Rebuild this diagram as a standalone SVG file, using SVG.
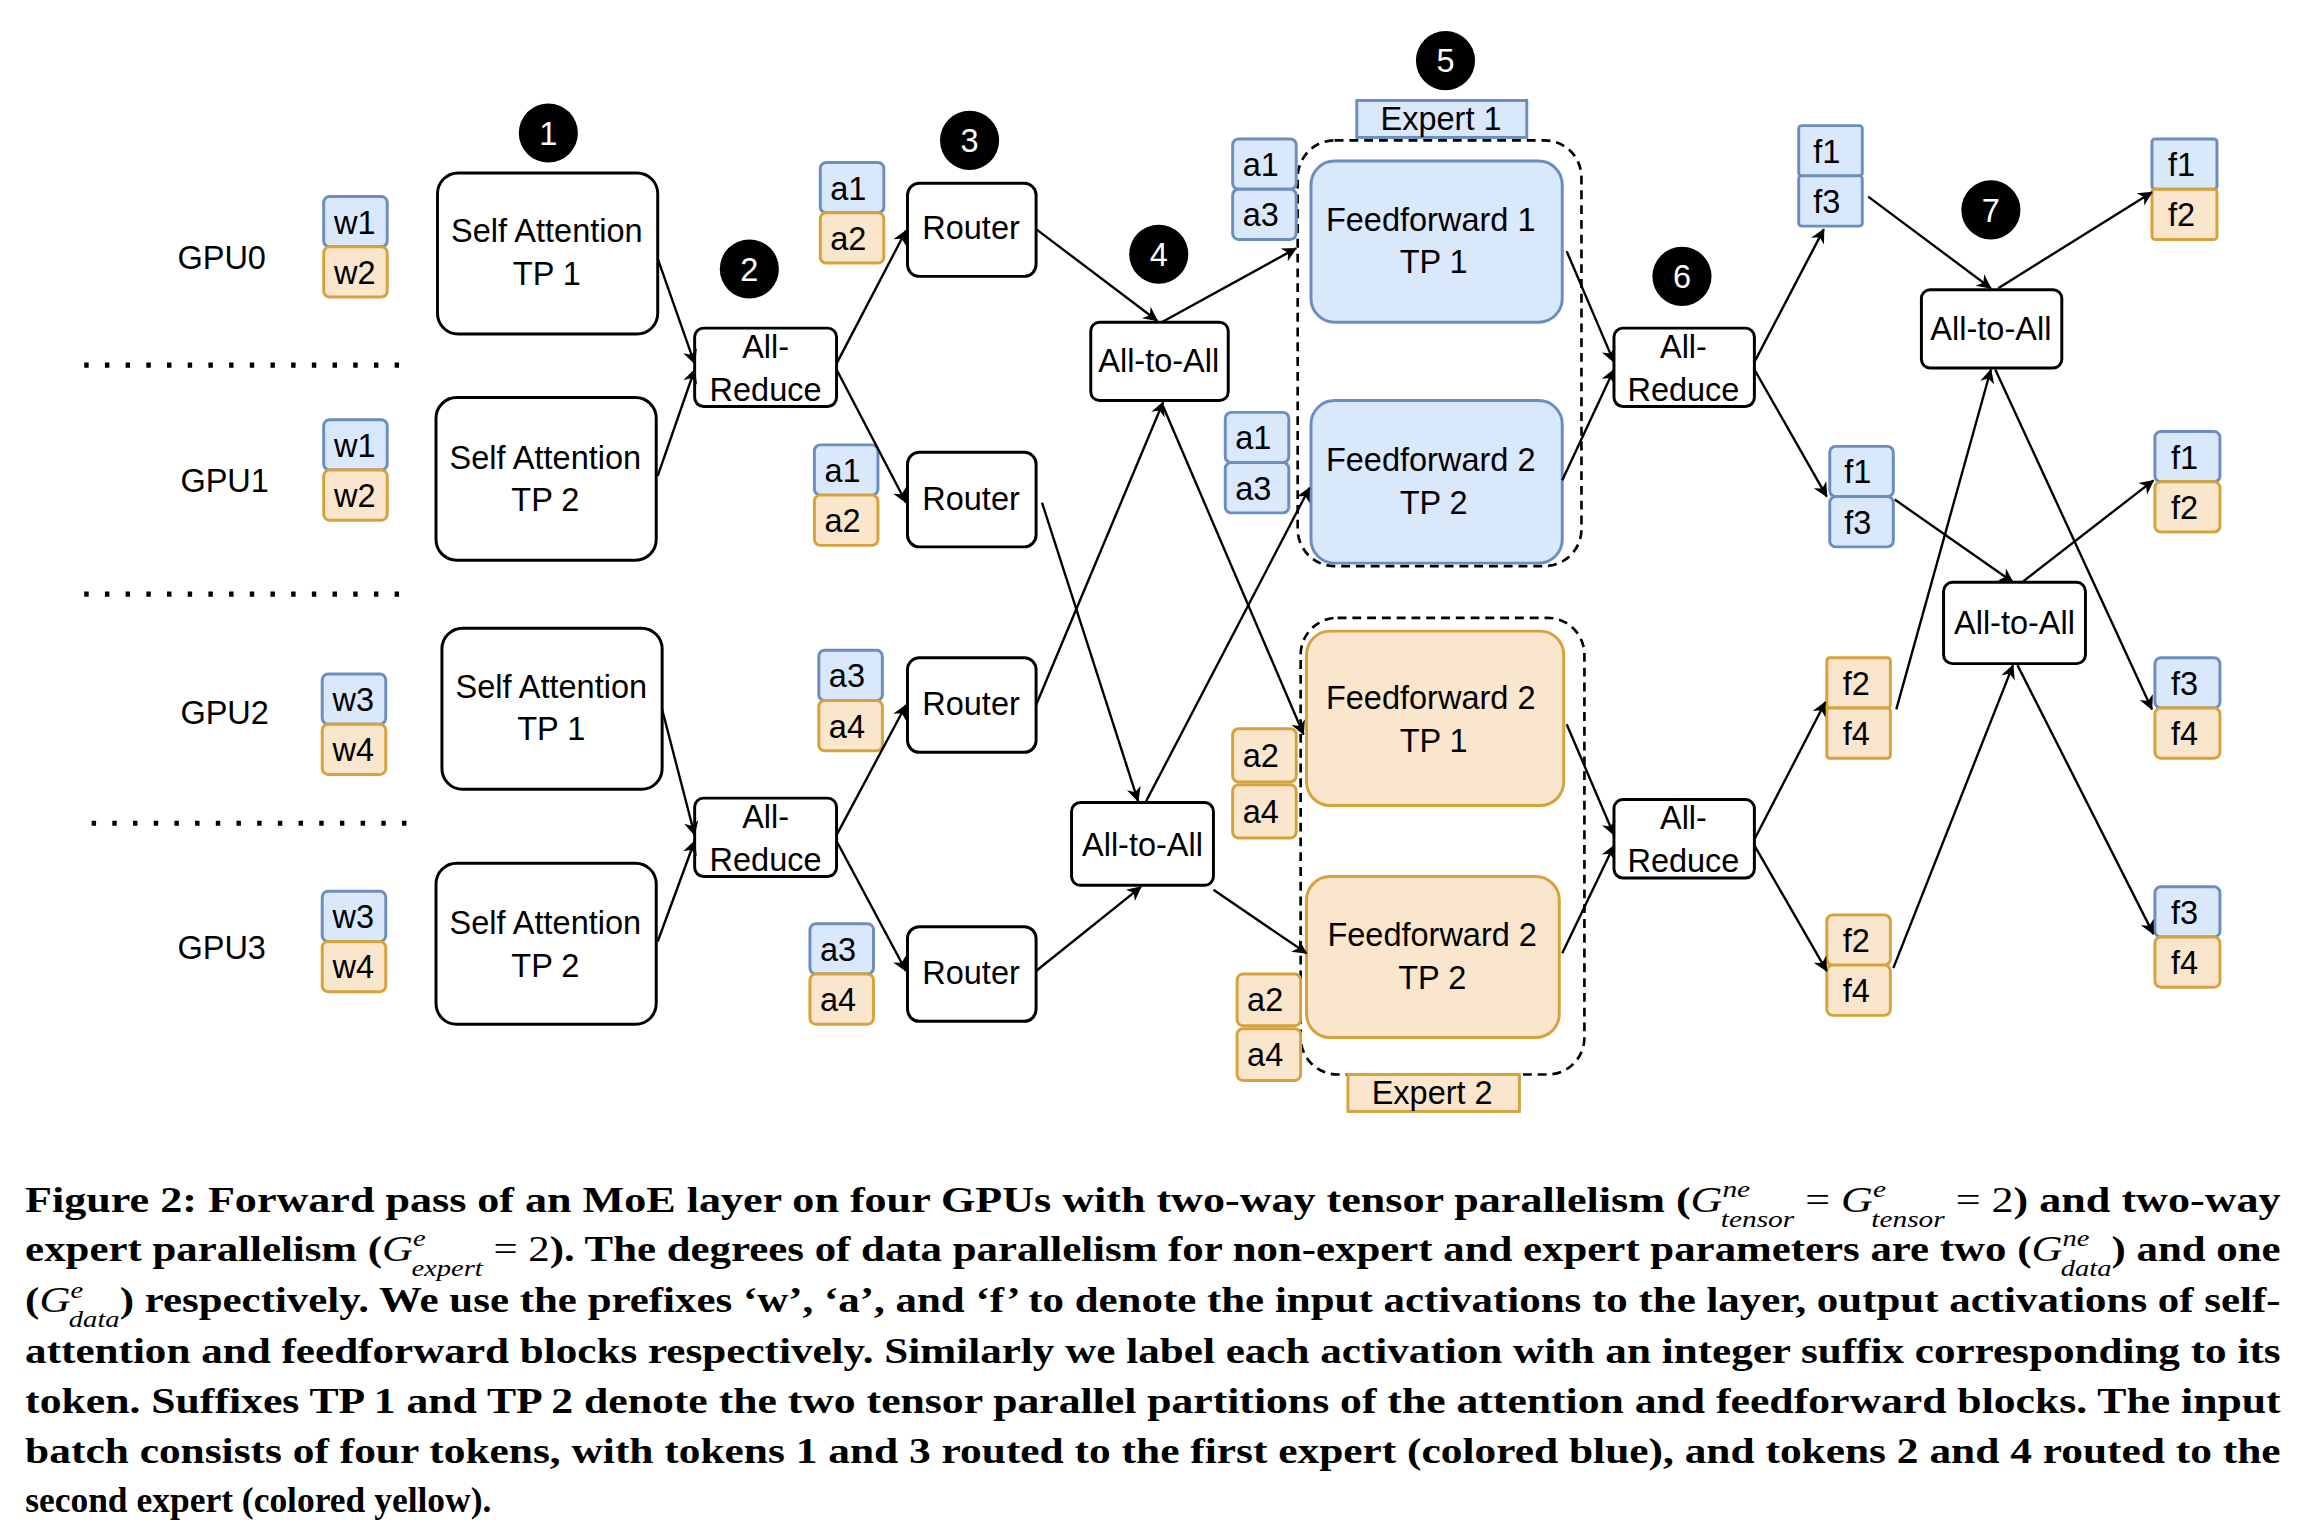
<svg xmlns="http://www.w3.org/2000/svg" width="2304" height="1538" viewBox="0 0 2304 1538">
<style>
.n{fill:#fff;stroke:#000;stroke-width:2}
.b{fill:#dae8fc;stroke:#6c8ebf;stroke-width:2}
.o{fill:#fae6cc;stroke:#d6a23c;stroke-width:2}
.t{font-family:"Liberation Sans",Arial,sans-serif;font-size:22px;fill:#000;text-anchor:middle}
.c{fill:#000}
.ct{font-family:"Liberation Sans",Arial,sans-serif;font-size:22px;fill:#fff;text-anchor:middle}
.e{stroke:#000;stroke-width:1.6;fill:none;marker-end:url(#ah)}
.d{stroke:#000;stroke-width:3.5;stroke-dasharray:3 11;fill:none}
.g{fill:none;stroke:#000;stroke-width:1.8;stroke-dasharray:6 4}
.cap{font-family:"Liberation Serif","Times New Roman",serif;font-size:24px;font-weight:bold;fill:#000}
</style>
<defs>
<marker id="ah" viewBox="0 0 10 10" refX="9" refY="5" markerWidth="7" markerHeight="7" markerUnits="userSpaceOnUse" orient="auto" style="overflow:visible">
<path d="M0,0 L10,5 L0,10 L3,5 Z" fill="#000" transform="scale(1.4) translate(-3,-1.4)"/>
</marker>
</defs>
<rect width="2304" height="1538" fill="#fff"/>
<g transform="scale(1.478)">
<g id="labels">
<text class="t" x="150" y="182">GPU0</text>
<text class="t" x="152" y="333">GPU1</text>
<text class="t" x="152" y="490">GPU2</text>
<text class="t" x="150" y="649">GPU3</text>
<line class="d" x1="57" y1="247" x2="275" y2="247"/>
<line class="d" x1="57" y1="402" x2="275" y2="402"/>
<line class="d" x1="62" y1="557" x2="283" y2="557"/>
</g>
<g id="markers">
<circle class="c" cx="371" cy="90" r="20"/><text class="ct" x="371" y="98">1</text>
<circle class="c" cx="507" cy="182" r="20"/><text class="ct" x="507" y="190">2</text>
<circle class="c" cx="656" cy="95" r="20"/><text class="ct" x="656" y="103">3</text>
<circle class="c" cx="784" cy="172" r="20"/><text class="ct" x="784" y="180">4</text>
<circle class="c" cx="978" cy="41" r="20"/><text class="ct" x="978" y="49">5</text>
<circle class="c" cx="1138" cy="187" r="20"/><text class="ct" x="1138" y="195">6</text>
<circle class="c" cx="1347" cy="142" r="20"/><text class="ct" x="1347" y="150">7</text>
</g>
<g id="weights">
<rect class="b" x="219" y="133" width="43" height="34" rx="4"/><text class="t" x="240" y="158">w1</text>
<rect class="o" x="219" y="167" width="43" height="34" rx="4"/><text class="t" x="240" y="192">w2</text>
<rect class="b" x="219" y="284" width="43" height="34" rx="4"/><text class="t" x="240" y="309">w1</text>
<rect class="o" x="219" y="318" width="43" height="34" rx="4"/><text class="t" x="240" y="343">w2</text>
<rect class="b" x="218" y="456" width="43" height="34" rx="4"/><text class="t" x="239" y="481">w3</text>
<rect class="o" x="218" y="490" width="43" height="34" rx="4"/><text class="t" x="239" y="515">w4</text>
<rect class="b" x="218" y="603" width="43" height="34" rx="4"/><text class="t" x="239" y="628">w3</text>
<rect class="o" x="218" y="637" width="43" height="34" rx="4"/><text class="t" x="239" y="662">w4</text>
</g>
<g id="sa0"><rect class="n" x="296" y="117" width="149" height="109" rx="14"/><text class="t" x="370" y="164">Self Attention</text><text class="t" x="370" y="193">TP 1</text></g>
<g id="sa1"><rect class="n" x="295" y="269" width="149" height="110" rx="14"/><text class="t" x="369" y="317">Self Attention</text><text class="t" x="369" y="346">TP 2</text></g>
<g id="sa2"><rect class="n" x="299" y="425" width="149" height="109" rx="14"/><text class="t" x="373" y="472">Self Attention</text><text class="t" x="373" y="501">TP 1</text></g>
<g id="sa3"><rect class="n" x="295" y="584" width="149" height="109" rx="14"/><text class="t" x="369" y="632">Self Attention</text><text class="t" x="369" y="661">TP 2</text></g>
<g id="ar0"><rect class="n" x="470" y="222" width="96" height="53" rx="6"/><text class="t" x="518" y="242">All-</text><text class="t" x="518" y="271">Reduce</text></g>
<g id="ar1"><rect class="n" x="470" y="540" width="96" height="53" rx="6"/><text class="t" x="518" y="560">All-</text><text class="t" x="518" y="589">Reduce</text></g>
<g id="acts">
<rect class="b" x="555" y="110" width="43" height="34" rx="4"/><text class="t" x="574" y="135">a1</text>
<rect class="o" x="555" y="144" width="43" height="34" rx="4"/><text class="t" x="574" y="169">a2</text>
<rect class="b" x="551" y="301" width="43" height="34" rx="4"/><text class="t" x="570" y="326">a1</text>
<rect class="o" x="551" y="335" width="43" height="34" rx="4"/><text class="t" x="570" y="360">a2</text>
<rect class="b" x="554" y="440" width="43" height="34" rx="4"/><text class="t" x="573" y="465">a3</text>
<rect class="o" x="554" y="474" width="43" height="34" rx="4"/><text class="t" x="573" y="499">a4</text>
<rect class="b" x="548" y="625" width="43" height="34" rx="4"/><text class="t" x="567" y="650">a3</text>
<rect class="o" x="548" y="659" width="43" height="34" rx="4"/><text class="t" x="567" y="684">a4</text>
</g>
<g id="r0"><rect class="n" x="614" y="124" width="87" height="63" rx="8"/><text class="t" x="657" y="162">Router</text></g>
<g id="r1"><rect class="n" x="614" y="306" width="87" height="64" rx="8"/><text class="t" x="657" y="345">Router</text></g>
<g id="r2"><rect class="n" x="614" y="445" width="87" height="64" rx="8"/><text class="t" x="657" y="484">Router</text></g>
<g id="r3"><rect class="n" x="614" y="627" width="87" height="64" rx="8"/><text class="t" x="657" y="666">Router</text></g>
<g id="a2a0"><rect class="n" x="738" y="218" width="93" height="53" rx="6"/><text class="t" x="784" y="252">All-to-All</text></g>
<g id="a2a1"><rect class="n" x="725" y="543" width="96" height="56" rx="6"/><text class="t" x="773" y="579">All-to-All</text></g>
<g id="expert1">
<rect class="g" x="878" y="95" width="192" height="288" rx="25"/>
<rect x="918" y="68" width="115" height="25" fill="#dae8fc" stroke="#6c8ebf" stroke-width="2"/>
<text class="t" x="975" y="88">Expert 1</text>
<rect class="b" x="887" y="109" width="170" height="109" rx="16"/><text class="t" x="968" y="156">Feedforward 1</text><text class="t" x="970" y="185">TP 1</text>
<rect class="b" x="887" y="271" width="170" height="110" rx="16"/><text class="t" x="968" y="319">Feedforward 2</text><text class="t" x="970" y="348">TP 2</text>
<rect class="b" x="834" y="94" width="43" height="34" rx="4"/><text class="t" x="853" y="119">a1</text>
<rect class="b" x="834" y="128" width="43" height="34" rx="4"/><text class="t" x="853" y="153">a3</text>
<rect class="b" x="829" y="279" width="43" height="34" rx="4"/><text class="t" x="848" y="304">a1</text>
<rect class="b" x="829" y="313" width="43" height="34" rx="4"/><text class="t" x="848" y="338">a3</text>
</g>
<g id="expert2">
<rect class="g" x="880" y="418" width="192" height="309" rx="25"/>
<rect x="912" y="727" width="116" height="25" fill="#fae6cc" stroke="#d6a23c" stroke-width="2"/>
<text class="t" x="969" y="747">Expert 2</text>
<rect class="o" x="884" y="427" width="174" height="118" rx="16"/><text class="t" x="968" y="480">Feedforward 2</text><text class="t" x="970" y="509">TP 1</text>
<rect class="o" x="884" y="593" width="171" height="109" rx="16"/><text class="t" x="969" y="640">Feedforward 2</text><text class="t" x="969" y="669">TP 2</text>
<rect class="o" x="834" y="493" width="43" height="36" rx="4"/><text class="t" x="853" y="519">a2</text>
<rect class="o" x="834" y="531" width="43" height="36" rx="4"/><text class="t" x="853" y="557">a4</text>
<rect class="o" x="837" y="659" width="43" height="35" rx="4"/><text class="t" x="856" y="684">a2</text>
<rect class="o" x="837" y="696" width="43" height="35" rx="4"/><text class="t" x="856" y="721">a4</text>
</g>
<g id="ar2"><rect class="n" x="1092" y="222" width="95" height="53" rx="6"/><text class="t" x="1139" y="242">All-</text><text class="t" x="1139" y="271">Reduce</text></g>
<g id="ar3"><rect class="n" x="1092" y="541" width="95" height="53" rx="6"/><text class="t" x="1139" y="561">All-</text><text class="t" x="1139" y="590">Reduce</text></g>
<g id="fmid">
<rect class="b" x="1217" y="85" width="43" height="34" rx="2"/><text class="t" x="1236" y="110">f1</text>
<rect class="b" x="1217" y="119" width="43" height="34" rx="2"/><text class="t" x="1236" y="144">f3</text>
<rect class="b" x="1238" y="302" width="43" height="34" rx="4"/><text class="t" x="1257" y="327">f1</text>
<rect class="b" x="1238" y="336" width="43" height="34" rx="4"/><text class="t" x="1257" y="361">f3</text>
<rect class="o" x="1236" y="445" width="43" height="34" rx="2"/><text class="t" x="1256" y="470">f2</text>
<rect class="o" x="1236" y="479" width="43" height="34" rx="2"/><text class="t" x="1256" y="504">f4</text>
<rect class="o" x="1236" y="619" width="43" height="34" rx="4"/><text class="t" x="1256" y="644">f2</text>
<rect class="o" x="1236" y="653" width="43" height="34" rx="4"/><text class="t" x="1256" y="678">f4</text>
</g>
<g id="a2a2"><rect class="n" x="1300" y="196" width="95" height="53" rx="6"/><text class="t" x="1347" y="230">All-to-All</text></g>
<g id="a2a3"><rect class="n" x="1315" y="394" width="96" height="55" rx="6"/><text class="t" x="1363" y="429">All-to-All</text></g>
<g id="fout">
<rect class="b" x="1456" y="94" width="44" height="34" rx="2"/><text class="t" x="1476" y="119">f1</text>
<rect class="o" x="1456" y="128" width="44" height="34" rx="2"/><text class="t" x="1476" y="153">f2</text>
<rect class="b" x="1458" y="292" width="44" height="34" rx="4"/><text class="t" x="1478" y="317">f1</text>
<rect class="o" x="1458" y="326" width="44" height="34" rx="4"/><text class="t" x="1478" y="351">f2</text>
<rect class="b" x="1458" y="445" width="44" height="34" rx="4"/><text class="t" x="1478" y="470">f3</text>
<rect class="o" x="1458" y="479" width="44" height="34" rx="4"/><text class="t" x="1478" y="504">f4</text>
<rect class="b" x="1458" y="600" width="44" height="34" rx="4"/><text class="t" x="1478" y="625">f3</text>
<rect class="o" x="1458" y="634" width="44" height="34" rx="4"/><text class="t" x="1478" y="659">f4</text>
</g>
<g id="connectors">
<line class="e" x1="445" y1="175" x2="470" y2="246"/>
<line class="e" x1="445" y1="322" x2="470" y2="250"/>
<line class="e" x1="566" y1="246" x2="613" y2="156"/>
<line class="e" x1="566" y1="250" x2="613" y2="340"/>
<line class="e" x1="448" y1="480" x2="470" y2="565"/>
<line class="e" x1="445" y1="637" x2="470" y2="569"/>
<line class="e" x1="566" y1="565" x2="613" y2="477"/>
<line class="e" x1="566" y1="569" x2="613" y2="657"/>
<line class="e" x1="701" y1="155" x2="783" y2="217"/>
<line class="e" x1="705" y1="340" x2="770" y2="542"/>
<line class="e" x1="701" y1="477" x2="787" y2="272"/>
<line class="e" x1="701" y1="657" x2="772" y2="600"/>
<line class="e" x1="786" y1="218" x2="877" y2="168"/>
<line class="e" x1="787" y1="275" x2="882" y2="497"/>
<line class="e" x1="775" y1="543" x2="886" y2="330"/>
<line class="e" x1="821" y1="602" x2="884" y2="645"/>
<line class="e" x1="1060" y1="170" x2="1092" y2="245"/>
<line class="e" x1="1057" y1="325" x2="1092" y2="250"/>
<line class="e" x1="1060" y1="490" x2="1092" y2="565"/>
<line class="e" x1="1057" y1="645" x2="1092" y2="572"/>
<line class="e" x1="1187" y1="245" x2="1234" y2="155"/>
<line class="e" x1="1187" y1="250" x2="1236" y2="336"/>
<line class="e" x1="1187" y1="568" x2="1235" y2="475"/>
<line class="e" x1="1187" y1="572" x2="1236" y2="657"/>
<line class="e" x1="1264" y1="133" x2="1347" y2="195"/>
<line class="e" x1="1352" y1="195" x2="1456" y2="130"/>
<line class="e" x1="1282" y1="338" x2="1362" y2="394"/>
<line class="e" x1="1368" y1="394" x2="1457" y2="325"/>
<line class="e" x1="1283" y1="480" x2="1347" y2="250"/>
<line class="e" x1="1350" y1="250" x2="1456" y2="480"/>
<line class="e" x1="1281" y1="655" x2="1362" y2="450"/>
<line class="e" x1="1365" y1="450" x2="1457" y2="632"/>
</g>
<g id="caption">
<text class="cap" x="17" y="820" textLength="1526" lengthAdjust="spacingAndGlyphs">Figure 2: Forward pass of an MoE layer on four GPUs with two-way tensor parallelism (<tspan font-style="italic" font-weight="normal">G</tspan><tspan font-style="italic" font-weight="normal" font-size="16" dy="-10">ne</tspan><tspan font-style="italic" font-weight="normal" font-size="16" dx="-16" dy="20">tensor</tspan><tspan dy="-10" font-weight="normal"> = </tspan><tspan font-style="italic" font-weight="normal">G</tspan><tspan font-style="italic" font-weight="normal" font-size="16" dy="-10">e</tspan><tspan font-style="italic" font-weight="normal" font-size="16" dx="-8" dy="20">tensor</tspan><tspan dy="-10" font-weight="normal"> = 2</tspan>) and two-way</text>
<text class="cap" x="17" y="853" textLength="1526" lengthAdjust="spacingAndGlyphs">expert parallelism (<tspan font-style="italic" font-weight="normal">G</tspan><tspan font-style="italic" font-weight="normal" font-size="16" dy="-10">e</tspan><tspan font-style="italic" font-weight="normal" font-size="16" dx="-8" dy="20">expert</tspan><tspan dy="-10" font-weight="normal"> = 2</tspan>). The degrees of data parallelism for non-expert and expert parameters are two (<tspan font-style="italic" font-weight="normal">G</tspan><tspan font-style="italic" font-weight="normal" font-size="16" dy="-10">ne</tspan><tspan font-style="italic" font-weight="normal" font-size="16" dx="-16" dy="20">data</tspan><tspan dy="-10">) and one</tspan></text>
<text class="cap" x="17" y="888" textLength="1526" lengthAdjust="spacingAndGlyphs">(<tspan font-style="italic" font-weight="normal">G</tspan><tspan font-style="italic" font-weight="normal" font-size="16" dy="-10">e</tspan><tspan font-style="italic" font-weight="normal" font-size="16" dx="-8" dy="20">data</tspan><tspan dy="-10">) respectively. We use the prefixes ‘w’, ‘a’, and ‘f’ to denote the input activations to the layer, output activations of self-</tspan></text>
<text class="cap" x="17" y="922" textLength="1526" lengthAdjust="spacingAndGlyphs">attention and feedforward blocks respectively. Similarly we label each activation with an integer suffix corresponding to its</text>
<text class="cap" x="17" y="956" textLength="1526" lengthAdjust="spacingAndGlyphs">token. Suffixes TP 1 and TP 2 denote the two tensor parallel partitions of the attention and feedforward blocks. The input</text>
<text class="cap" x="17" y="990" textLength="1526" lengthAdjust="spacingAndGlyphs">batch consists of four tokens, with tokens 1 and 3 routed to the first expert (colored blue), and tokens 2 and 4 routed to the</text>
<text class="cap" x="17" y="1023">second expert (colored yellow).</text>
</g>
</g>
</svg>
